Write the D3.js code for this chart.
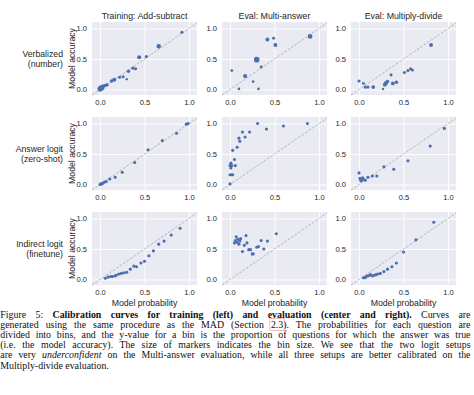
<!DOCTYPE html>
<html>
<head>
<meta charset="utf-8">
<script src="https://cdn.jsdelivr.net/npm/d3@7"></script>
<style>
  body { margin: 0; background: #fff; }
  svg { display: block; }
</style>
</head>
<body>
<script>
'use strict';

// column / row names and ticks
const colTitles = ['Training: Add-subtract', 'Eval: Multi-answer', 'Eval: Multiply-divide'];
const rowTitles = [['Verbalized', '(number)'], ['Answer logit', '(zero-shot)'], ['Indirect logit', '(finetune)']];
const tickVals = [0, 0.5, 1.0];
const tickText = ['0.0', '0.5', '1.0'];

// verbalized (number)
const verbAddProb = [0.00, 0.01, 0.02, 0.03, 0.05, 0.07, 0.08, 0.13, 0.16, 0.22, 0.26, 0.30, 0.32, 0.37, 0.40, 0.44, 0.52, 0.66, 0.92];
const verbAddAcc  = [0.01, 0.03, 0.02, 0.05, 0.06, 0.07, 0.08, 0.14, 0.16, 0.20, 0.21, 0.17, 0.30, 0.35, 0.34, 0.53, 0.54, 0.71, 0.94];
const verbAddBins = [22, 18, 20, 14, 10, 8, 8, 10, 14, 8, 8, 5, 10, 8, 8, 14, 8, 16, 8];

const verbMultiProb = [0.90, 0.42, 0.49, 0.51, 0.30, 0.35, 0.02, 0.17, 0.26, 0.10, 0.32];
const verbMultiAcc  = [0.87, 0.82, 0.84, 0.73, 0.49, 0.37, 0.31, 0.22, 0.13, 0.01, 0.01];
const verbMultiBins = [18, 12, 7, 12, 26, 7, 7, 14, 6, 6, 6];

const verbMulProb = [0.00, 0.05, 0.07, 0.10, 0.16, 0.27, 0.29, 0.30, 0.32, 0.36, 0.38, 0.42, 0.51, 0.55, 0.58, 0.60, 0.81];
const verbMulAcc  = [0.14, 0.10, 0.04, 0.04, 0.04, 0.01, 0.08, 0.10, 0.13, 0.24, 0.10, 0.12, 0.28, 0.31, 0.34, 0.32, 0.73];
const verbMulBins = [8, 7, 8, 8, 12, 5, 12, 14, 10, 8, 12, 10, 8, 8, 8, 8, 12];

// answer logit (zero-shot)
const ansAddProb = [0.00, 0.01, 0.02, 0.03, 0.05, 0.07, 0.11, 0.17, 0.25, 0.39, 0.54, 0.70, 0.86, 0.97, 0.99];
const ansAddAcc  = [0.00, 0.01, 0.01, 0.02, 0.04, 0.05, 0.09, 0.12, 0.20, 0.36, 0.57, 0.72, 0.84, 0.99, 1.00];

const ansMultiProb = [0.00, 0.00, 0.02, 0.03, 0.01, 0.00, 0.02, 0.01, 0.06, 0.05, 0.03, 0.08, 0.10, 0.11, 0.14, 0.17, 0.22, 0.31, 0.41, 0.60, 0.87];
const ansMultiAcc  = [0.01, 0.16, 0.16, 0.16, 0.27, 0.31, 0.31, 0.35, 0.31, 0.41, 0.56, 0.61, 0.76, 0.71, 0.86, 0.78, 0.86, 1.00, 0.91, 0.96, 1.00];

const ansMulProb = [0.00, 0.01, 0.02, 0.03, 0.04, 0.05, 0.07, 0.10, 0.15, 0.20, 0.28, 0.39, 0.55, 0.80, 0.96];
const ansMulAcc  = [0.19, 0.10, 0.06, 0.07, 0.11, 0.09, 0.07, 0.12, 0.14, 0.14, 0.29, 0.25, 0.39, 0.63, 0.92];

// indirect logit (finetune)
const indAddProb = [0.06, 0.09, 0.12, 0.14, 0.17, 0.18, 0.21, 0.24, 0.27, 0.30, 0.34, 0.38, 0.41, 0.46, 0.50, 0.55, 0.60, 0.66, 0.72, 0.80, 0.90];
const indAddAcc  = [0.02, 0.04, 0.05, 0.05, 0.06, 0.07, 0.09, 0.10, 0.11, 0.12, 0.17, 0.22, 0.21, 0.27, 0.30, 0.39, 0.47, 0.58, 0.63, 0.73, 0.84];

const indMultiProb = [0.05, 0.06, 0.07, 0.08, 0.09, 0.10, 0.11, 0.12, 0.14, 0.16, 0.18, 0.19, 0.21, 0.23, 0.25, 0.26, 0.30, 0.32, 0.35, 0.38, 0.42, 0.52];
const indMultiAcc  = [0.60, 0.64, 0.70, 0.61, 0.66, 0.58, 0.63, 0.67, 0.46, 0.56, 0.72, 0.60, 0.49, 0.49, 0.42, 0.42, 0.53, 0.54, 0.64, 0.50, 0.63, 0.75];

const indMulProb = [0.05, 0.07, 0.08, 0.10, 0.12, 0.13, 0.15, 0.17, 0.19, 0.21, 0.24, 0.28, 0.32, 0.37, 0.42, 0.50, 0.64, 0.84];
const indMulAcc  = [0.03, 0.03, 0.05, 0.06, 0.07, 0.08, 0.06, 0.07, 0.08, 0.09, 0.10, 0.13, 0.17, 0.21, 0.27, 0.45, 0.65, 0.94];

// caption, one array per printed line
const captionLines = [
  [['Figure 5: ', ''], ['Calibration curves for training (left) and evaluation (center and right).', 'b'], [' Curves are', '']],
  [['generated using the same procedure as the MAD (Section ', ''], ['2.3', 'link'], ['). The probabilities for each question are', '']],
  [['divided into bins, and the y-value for a bin is the proportion of questions for which the answer was true', '']],
  [['(i.e. the model accuracy). The size of markers indicates the bin size. We see that the two logit setups', '']],
  [['are very ', ''], ['underconfident', 'i'], [' on the Multi-answer evaluation, while all three setups are better calibrated on the', '']],
  [['Multiply-divide evaluation.', '']]
];

(function() {

  const W = 474, H = 395;
  const panelW = 105, panelH = 73;
  const colX = [92, 222, 351];
  const rowY = [22, 117, 212];
  const sans = '"Liberation Sans", Arial, sans-serif';
  const ink = '#262626';
  const dotColor = '#4a6fae';

  let svg = d3.select('body').append('svg')
    .attr('width', W)
    .attr('height', H);

  // bin size -> marker radius
  let rScale = d3.scaleSqrt().domain([0, 100]).range([0, 5.5]);

  let grid = [
    [[verbAddProb, verbAddAcc, verbAddBins], [verbMultiProb, verbMultiAcc, verbMultiBins], [verbMulProb, verbMulAcc, verbMulBins]],
    [[ansAddProb, ansAddAcc], [ansMultiProb, ansMultiAcc], [ansMulProb, ansMulAcc]],
    [[indAddProb, indAddAcc], [indMultiProb, indMultiAcc], [indMulProb, indMulAcc]]
  ];

  grid.forEach((row, r) => {
    row.forEach((p, c) => drawPanel(colX[c], rowY[r], p[0], p[1], p[2], r, c));
  });

  makeLabels();
  makeCaption();

  function drawPanel(px, py, xs, ys, bins, r, c) {
    let g = svg.append('g').attr('transform', 'translate(' + px + ',' + py + ')');

    let xScale = d3.scaleLinear().domain([-0.09, 1.09]).range([0, panelW]);
    let yScale = d3.scaleLinear().domain([-0.09, 1.107]).range([panelH, 0]);

    g.append('rect')
      .attr('width', panelW)
      .attr('height', panelH)
      .attr('fill', '#eaeaf2');

    // grid lines + tick labels
    let xAxis = g.append('g')
      .attr('transform', 'translate(0,' + panelH + ')')
      .call(d3.axisBottom(xScale).tickValues(tickVals).tickSize(-panelH).tickPadding(5)
        .tickFormat((d, i) => tickText[i]));
    let yAxis = g.append('g')
      .call(d3.axisLeft(yScale).tickValues(tickVals).tickSize(-panelW).tickPadding(5)
        .tickFormat((d, i) => tickText[i]));

    [xAxis, yAxis].forEach(a => {
      a.select('.domain').remove();
      a.selectAll('line').attr('stroke', '#fff').attr('stroke-width', 0.9);
      a.selectAll('text')
        .attr('fill', ink)
        .style('font-family', sans)
        .style('font-size', '7.6px');
    });

    // perfect calibration diagonal
    g.append('line')
      .attr('x1', xScale(-0.09)).attr('y1', yScale(-0.09))
      .attr('x2', xScale(1.09)).attr('y2', yScale(1.09))
      .attr('stroke', '#9a9aa2')
      .attr('stroke-width', 0.7)
      .attr('stroke-dasharray', '2.6,1.6');

    g.selectAll('.dot')
      .data(xs)
      .enter()
      .append('circle')
      .attr('cx', d => xScale(d))
      .attr('cy', (d, i) => yScale(ys[i]))
      .attr('r', (d, i) => rScale(bins ? bins[i] : 8))
      .attr('fill', dotColor);

    if (r === 0) {
      g.append('text')
        .attr('x', panelW / 2)
        .attr('y', -3)
        .attr('text-anchor', 'middle')
        .attr('fill', ink)
        .style('font-family', sans)
        .style('font-size', '8.8px')
        .text(colTitles[c]);
    }
    if (r === 2) {
      g.append('text')
        .attr('x', panelW / 2)
        .attr('y', panelH + 21)
        .attr('text-anchor', 'middle')
        .attr('fill', ink)
        .style('font-family', sans)
        .style('font-size', '8.7px')
        .text('Model probability');
    }
    if (c === 0) {
      g.append('text')
        .attr('transform', 'translate(-20,' + (panelH / 2) + ')rotate(-90)')
        .attr('text-anchor', 'middle')
        .attr('dy', '0.35em')
        .attr('fill', ink)
        .style('font-family', sans)
        .style('font-size', '8.7px')
        .text('Model accuracy');
    }
  }

  // row names on the left
  function makeLabels() {
    rowTitles.forEach((lines, r) => {
      let cy = rowY[r] + panelH / 2;
      lines.forEach((t, k) => {
        svg.append('text')
          .attr('x', 63)
          .attr('y', cy - 1.8 + k * 9.8)
          .attr('text-anchor', 'end')
          .attr('fill', ink)
          .style('font-family', sans)
          .style('font-size', '8.7px')
          .text(t);
      });
    });
  }

  // justified caption below the figure
  function makeCaption() {
    let left = 0.3, right = 470.5;
    captionLines.forEach((segs, i) => {
      let txt = svg.append('text')
        .attr('x', left)
        .attr('y', 317.8 + i * 10.15)
        .attr('fill', '#111')
        .style('font-family', '"Liberation Serif", "Times New Roman", serif')
        .style('font-size', '9.9px');
      let linkStart = -1, linkLen = 0, pos = 0;
      segs.forEach(s => {
        let ts = txt.append('tspan').text(s[0]);
        if (s[1] === 'b') ts.style('font-weight', 'bold');
        if (s[1] === 'i') ts.style('font-style', 'italic');
        if (s[1] === 'link') { linkStart = pos; linkLen = s[0].length; }
        pos += s[0].length;
      });
      if (i < captionLines.length - 1) {
        let full = segs.map(s => s[0]).join('');
        let spaces = (full.match(/ /g) || []).length;
        let natural = txt.node().getComputedTextLength();
        txt.style('word-spacing', ((right - left - natural) / spaces) + 'px');
      }
      if (linkStart >= 0) {
        let a = txt.node().getExtentOfChar(linkStart);
        let b = txt.node().getExtentOfChar(linkStart + linkLen - 1);
        svg.append('rect')
          .attr('x', a.x - 1)
          .attr('y', a.y - 0.5)
          .attr('width', b.x + b.width - a.x + 2)
          .attr('height', a.height + 1)
          .attr('fill', 'none')
          .attr('stroke', '#f2a3a3')
          .attr('stroke-width', 0.7);
      }
    });
  }

})();
</script>
</body>
</html>
